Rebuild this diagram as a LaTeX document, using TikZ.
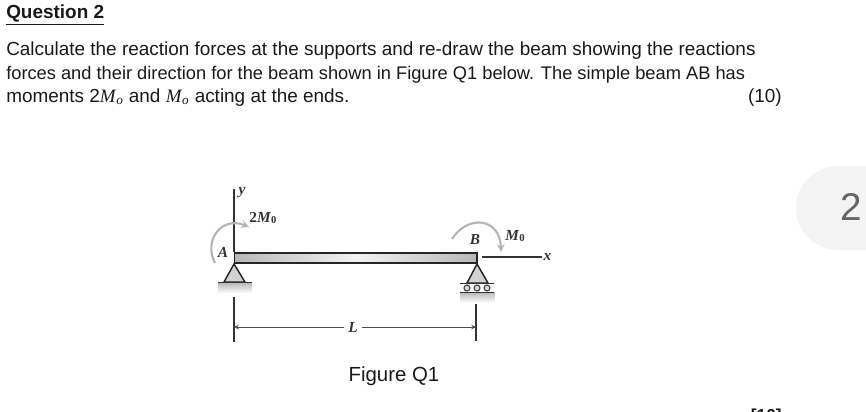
\documentclass[tikz,border=0pt]{standalone}
\usepackage{amsmath}
\usepackage{fontspec}
\setmainfont{Liberation Sans}
\newfontfamily\figfont{Liberation Serif}
\usetikzlibrary{positioning}
\definecolor{bubblegray}{HTML}{F3F3F3}
\definecolor{momentgray}{HTML}{B4B6B4}
\definecolor{supportgray}{HTML}{D2D2D2}
\newcommand{\momsym}{{\figfont\itshape M\kern0.5pt\textsubscript{o}}}
\newcommand{\figmom}{\textit{M}\kern0.3pt\raisebox{-0.2ex}{\fontsize{8}{9}\selectfont\upshape 0}}
\begin{document}
\begin{tikzpicture}[%
    x=0.75pt,y=-0.75pt,>=stealth,
    textline/.style={anchor=base west,inner sep=0pt,font=\fontsize{14.2}{16}\selectfont,text=black!90},
    figlabel/.style={inner sep=0pt,font=\figfont\bfseries\itshape\fontsize{11.5}{13}\selectfont,text=black!80},
    memberline/.style={draw=black!80,line width=0.9pt},
    dimline/.style={draw=black!70,line width=0.6pt},
    moment/.style={->,draw=momentgray,line width=1.6pt},
    support/.style={draw=black!85,line width=1.1pt,fill=supportgray},
    ground/.style={inner sep=0pt,minimum height=8pt,top color=black!28,bottom color=white}
  ]
    \useasboundingbox (0,0) rectangle (866,411);
    \fill[bubblegray] (866,166) -- (838,166) arc[start angle=-90,end angle=-270,radius=42] -- (866,250) -- cycle;
    \node[inner sep=0pt,text=black!60,font=\fontsize{29}{32}\selectfont] (page) at (851,207) {2};

    \node[textline,font=\bfseries\fontsize{14.2}{16}\selectfont] (title) at (6,18) {\underline{Question 2}};
    \node[textline] (line1) at (6,55) {Calculate the reaction forces at the supports and re-draw the beam showing the reactions};
    \node[textline,font=\fontsize{13.7}{16}\selectfont] (line2) at (6,79) {forces and their direction for the beam shown in Figure Q1 below. The simple beam AB has};
    \node[textline] (line3) at (6,102) {moments 2\momsym\ and \momsym\ acting at the ends.};
    \node[textline,anchor=base east] (marks) at (782,102) {(10)};
    \node[textline,anchor=base,font=\fontsize{15.3}{18}\selectfont] (caption) at (394,381) {Figure Q1};
    \node[textline,anchor=base east,font=\bfseries\fontsize{13}{15}\selectfont] (total) at (782,421) {[10]};

    \node[draw=black!85,line width=1pt,inner sep=0pt,minimum width=182pt,minimum height=7.5pt,
          left color=black!28,right color=black!28,middle color=black!5] (beam) at (355.5,258) {};

    \coordinate (ytop) at (234,189);
    \coordinate (ybot) at (234,252);
    \draw[memberline] (ytop) -- (ybot);
    \node[figlabel] (ylabel) at (242,193) {y};
    \coordinate (xleft) at (482,257);
    \node[figlabel,anchor=west,inner sep=1pt] (xlabel) at (542,257) {x};
    \draw[memberline] (xleft) -- (xlabel);

    % supports
    \node[ground,minimum width=25.5pt] (groundA) at (235,288) {};
    \draw[support] (234,264) coordinate (apexA) -- (224,282) -- (245,282) -- cycle;
    \draw[memberline,line width=1.2pt] (218,282.5) -- (252,282.5);
    \node[figlabel] (A) at (223,252) {A};

    \node[ground,minimum width=25.5pt] (groundB) at (477.5,297.5) {};
    \draw[support] (477,264) coordinate (apexB) -- (467,283) -- (488,283) -- cycle;
    \draw[memberline] (460,283.5) -- (494,283.5);
    \draw[memberline,line width=0.7pt] (460,292) -- (494,292);
    \foreach \rollx in {467,477,487}
      \draw[draw=black!75,line width=0.8pt,fill=black!15] (\rollx,288) circle[radius=3];
    \node[figlabel] (B) at (475,239) {B};

    % moments
    \coordinate (mAstart) at (215,263);
    \coordinate (mAend) at (249,227);
    \draw[moment] (mAstart) .. controls (203,240) and (222,216) .. (mAend);
    \node[figlabel] (mA) at (263,218) {{\upshape 2}\figmom};
    \coordinate (mBstart) at (452,239);
    \coordinate (mBend) at (501,252);
    \draw[moment] (mBstart) .. controls (468,214) and (500,218) .. (mBend);
    \node[figlabel] (mB) at (515,236) {\figmom};

    % span
    \coordinate (tickAtop) at (234,297);
    \coordinate (tickAbot) at (234,342);
    \coordinate (tickBtop) at (476,304);
    \coordinate (tickBbot) at (476,341);
    \draw[memberline] (tickAtop) -- (tickAbot);
    \draw[memberline] (tickBtop) -- (tickBbot);
    \node[figlabel,inner sep=3pt] (L) at (353,327) {L};
    \draw[dimline,->] (L) -- (234,327);
    \draw[dimline,->] (L) -- (476,327);
  \end{tikzpicture}
\end{document}
